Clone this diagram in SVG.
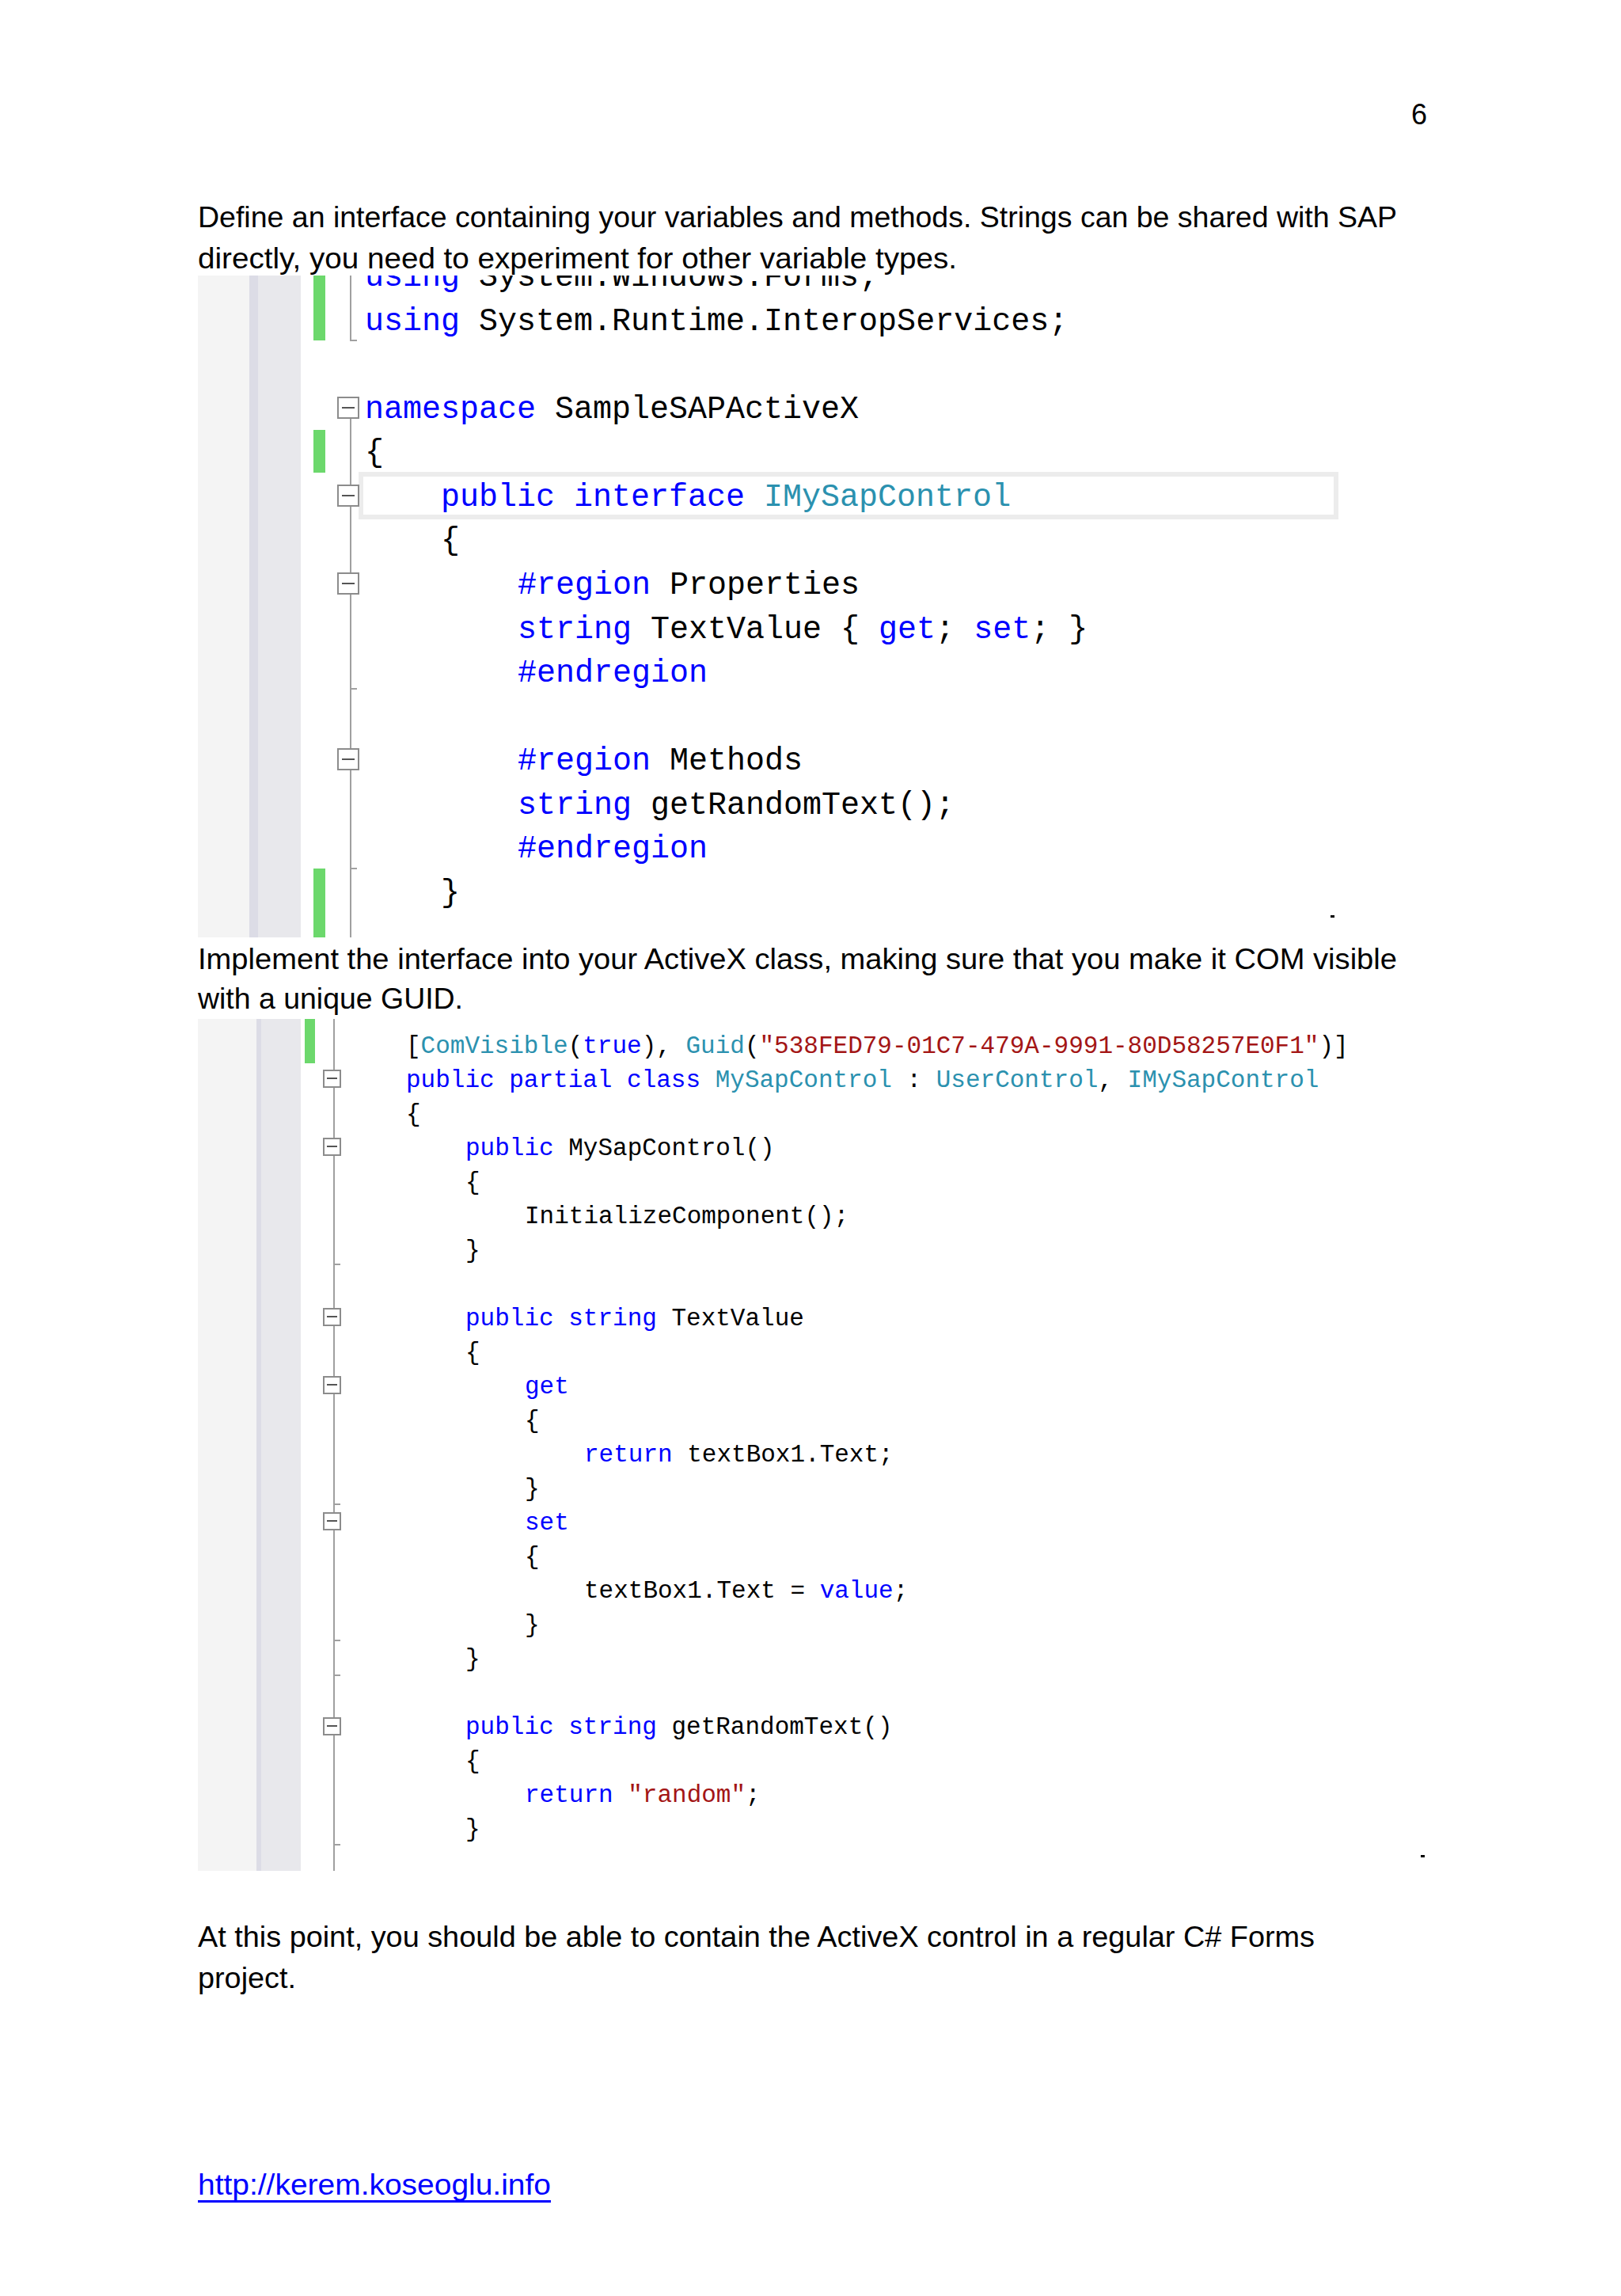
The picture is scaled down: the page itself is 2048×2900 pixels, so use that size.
<svg xmlns="http://www.w3.org/2000/svg" width="2048" height="2900" viewBox="0 0 2048 2900">
<style>
.p{font-family:"Liberation Sans",Arial,sans-serif;font-size:36px;fill:#000}
.c1{font-family:"Liberation Mono","DejaVu Sans Mono",monospace;font-size:40px;fill:#000}
.c2{font-family:"Liberation Mono","DejaVu Sans Mono",monospace;font-size:31px;fill:#000}
.k{fill:#0000ff}.t{fill:#2b91af}.s{fill:#a31515}
.box{fill:#fff;stroke:#8c8c8c;stroke-width:2}
.vl{stroke:#a0a0a0;stroke-width:2;fill:none}
</style>
<defs><clipPath id="cp1"><rect x="250" y="348" width="1450" height="836"/></clipPath></defs>
<rect width="2048" height="2900" fill="#fff"/>
<text class="p" x="1783" y="157">6</text>
<g id="para1">
<text class="p" x="250" y="287" textLength="1515" lengthAdjust="spacingAndGlyphs">Define an interface containing your variables and methods. Strings can be shared with SAP</text>
<text class="p" x="250" y="339" textLength="959" lengthAdjust="spacingAndGlyphs">directly, you need to experiment for other variable types.</text>
</g>
<g id="code1" clip-path="url(#cp1)">
<rect x="250" y="348" width="65" height="836" fill="#f4f4f4"/>
<rect x="315" y="348" width="11" height="836" fill="#dcdce6"/>
<rect x="326" y="348" width="54" height="836" fill="#e8e8ec"/>
<rect x="396" y="348" width="15" height="82" fill="#6cd86c"/>
<rect x="396" y="543" width="15" height="54" fill="#6cd86c"/>
<rect x="396" y="1097" width="15" height="87" fill="#6cd86c"/>
<path class="vl" d="M443 348V430h8M443 528V1184M443 870h8M443 1097h8"/>
<rect x="456" y="599" width="1232" height="54" fill="#fff" stroke="#ececec" stroke-width="6"/>
<rect class="box" x="427" y="502" width="26" height="26"/><path d="M432 515h16" stroke="#555" stroke-width="2"/>
<rect class="box" x="427" y="613" width="26" height="26"/><path d="M432 626h16" stroke="#555" stroke-width="2"/>
<rect class="box" x="427" y="724" width="26" height="26"/><path d="M432 737h16" stroke="#555" stroke-width="2"/>
<rect class="box" x="427" y="946" width="26" height="26"/><path d="M432 959h16" stroke="#555" stroke-width="2"/>
<text class="c1" x="461" y="361"><tspan class="k">using</tspan> System.Windows.Forms;</text>
<text class="c1" x="461" y="417"><tspan class="k">using</tspan> System.Runtime.InteropServices;</text>
<text class="c1" x="461" y="528"><tspan class="k">namespace</tspan> SampleSAPActiveX</text>
<text class="c1" x="461" y="583">{</text>
<text class="c1" x="557" y="639"><tspan class="k">public interface</tspan> <tspan class="t">IMySapControl</tspan></text>
<text class="c1" x="557" y="694">{</text>
<text class="c1" x="654" y="750"><tspan class="k">#region</tspan> Properties</text>
<text class="c1" x="654" y="806"><tspan class="k">string</tspan> TextValue { <tspan class="k">get</tspan>; <tspan class="k">set</tspan>; }</text>
<text class="c1" x="654" y="861"><tspan class="k">#endregion</tspan></text>
<text class="c1" x="654" y="972"><tspan class="k">#region</tspan> Methods</text>
<text class="c1" x="654" y="1028"><tspan class="k">string</tspan> getRandomText();</text>
<text class="c1" x="654" y="1083"><tspan class="k">#endregion</tspan></text>
<text class="c1" x="557" y="1139">}</text>
</g>
<rect x="1681" y="1156" width="5" height="3" fill="#000"/>
<g id="para2">
<text class="p" x="250" y="1224" textLength="1515" lengthAdjust="spacingAndGlyphs">Implement the interface into your ActiveX class, making sure that you make it COM visible</text>
<text class="p" x="250" y="1274" textLength="335" lengthAdjust="spacingAndGlyphs">with a unique GUID.</text>
</g>
<g id="code2">
<rect x="250" y="1287" width="74" height="1076" fill="#f4f4f4"/>
<rect x="324" y="1287" width="6" height="1076" fill="#dcdce6"/>
<rect x="330" y="1287" width="50" height="1076" fill="#e8e8ec"/>
<rect x="385" y="1287" width="13" height="56" fill="#6cd86c"/>
<path class="vl" d="M422 1287V2363M422 1597h8M422 1900h8M422 2072h8M422 2116h8M422 2330h8"/>
<g>
<rect class="box" x="409" y="1352" width="21" height="21"/><path d="M413 1362h13" stroke="#555" stroke-width="2"/>
<rect class="box" x="409" y="1438" width="21" height="21"/><path d="M413 1448h13" stroke="#555" stroke-width="2"/>
<rect class="box" x="409" y="1653" width="21" height="21"/><path d="M413 1663h13" stroke="#555" stroke-width="2"/>
<rect class="box" x="409" y="1739" width="21" height="21"/><path d="M413 1749h13" stroke="#555" stroke-width="2"/>
<rect class="box" x="409" y="1911" width="21" height="21"/><path d="M413 1921h13" stroke="#555" stroke-width="2"/>
<rect class="box" x="409" y="2170" width="21" height="21"/><path d="M413 2180h13" stroke="#555" stroke-width="2"/>
</g>
<text class="c2" x="513" y="1330">[<tspan class="t">ComVisible</tspan>(<tspan class="k">true</tspan>), <tspan class="t">Guid</tspan>(<tspan class="s">"538FED79-01C7-479A-9991-80D58257E0F1"</tspan>)]</text>
<text class="c2" x="513" y="1373"><tspan class="k">public partial class</tspan> <tspan class="t">MySapControl</tspan> : <tspan class="t">UserControl</tspan>, <tspan class="t">IMySapControl</tspan></text>
<text class="c2" x="513" y="1416">{</text>
<text class="c2" x="588" y="1459"><tspan class="k">public</tspan> MySapControl()</text>
<text class="c2" x="588" y="1502">{</text>
<text class="c2" x="663" y="1545">InitializeComponent();</text>
<text class="c2" x="588" y="1588">}</text>
<text class="c2" x="588" y="1674"><tspan class="k">public string</tspan> TextValue</text>
<text class="c2" x="588" y="1717">{</text>
<text class="c2" x="663" y="1760"><tspan class="k">get</tspan></text>
<text class="c2" x="663" y="1803">{</text>
<text class="c2" x="738" y="1846"><tspan class="k">return</tspan> textBox1.Text;</text>
<text class="c2" x="663" y="1889">}</text>
<text class="c2" x="663" y="1932"><tspan class="k">set</tspan></text>
<text class="c2" x="663" y="1975">{</text>
<text class="c2" x="738" y="2018">textBox1.Text = <tspan class="k">value</tspan>;</text>
<text class="c2" x="663" y="2061">}</text>
<text class="c2" x="588" y="2104">}</text>
<text class="c2" x="588" y="2190"><tspan class="k">public string</tspan> getRandomText()</text>
<text class="c2" x="588" y="2233">{</text>
<text class="c2" x="663" y="2276"><tspan class="k">return</tspan> <tspan class="s">"random"</tspan>;</text>
<text class="c2" x="588" y="2319">}</text>
</g>
<rect x="1795" y="2343" width="5" height="3" fill="#000"/>
<g id="para3">
<text class="p" x="250" y="2459" textLength="1411" lengthAdjust="spacingAndGlyphs">At this point, you should be able to contain the ActiveX control in a regular C# Forms</text>
<text class="p" x="250" y="2511" textLength="124" lengthAdjust="spacingAndGlyphs">project.</text>
</g>
<g id="link">
<text class="p" x="250" y="2772" textLength="446" lengthAdjust="spacingAndGlyphs" style="fill:#0000ff">http://kerem.koseoglu.info</text>
<rect x="250" y="2779" width="446" height="3" fill="#0000ff"/>
</g>
</svg>
